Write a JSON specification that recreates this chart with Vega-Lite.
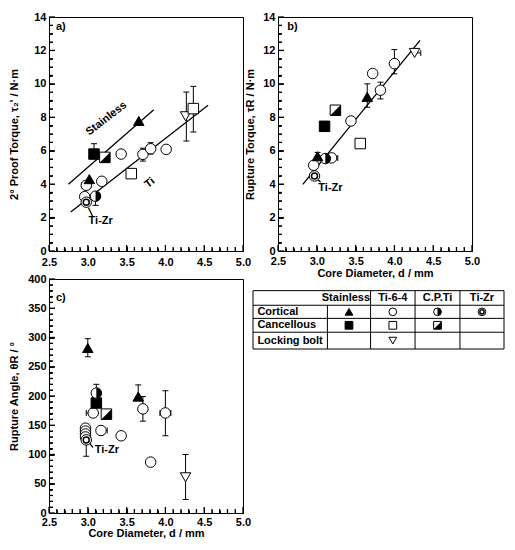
{
  "$schema": "https://vega.github.io/schema/vega-lite/v6.json",
  "padding": {"left": 8, "top": 10, "right": 5, "bottom": 5},
  "background": "white",
  "datasets": {
    "pts": [
      {"p": "a", "d": 2.98, "v": 3.93, "m": "circ_o"},
      {"p": "a", "d": 2.96, "v": 3.25, "m": "circ_o"},
      {"p": "a", "d": 3.18, "v": 4.17, "m": "circ_o"},
      {"p": "a", "d": 3.43, "v": 5.8, "m": "circ_o"},
      {"p": "a", "d": 3.71, "v": 5.78, "m": "circ_o"},
      {"p": "a", "d": 3.81, "v": 6.12, "m": "circ_o"},
      {"p": "a", "d": 4.01, "v": 6.08, "m": "circ_o"},
      {"p": "a", "d": 3.56, "v": 4.63, "m": "sq_o"},
      {"p": "a", "d": 4.26, "v": 8.06, "m": "tri_do"},
      {"p": "a", "d": 4.36, "v": 8.52, "m": "sq_o"},
      {"p": "a", "d": 3.10, "v": 3.28, "m": "halfcirc"},
      {"p": "a", "d": 2.98, "v": 2.92, "m": "dcirc"},
      {"p": "a", "d": 3.02, "v": 4.3, "m": "tri_f"},
      {"p": "a", "d": 3.657, "v": 7.78, "m": "tri_f"},
      {"p": "a", "d": 3.08, "v": 5.8, "m": "sq_f"},
      {"p": "a", "d": 3.22, "v": 5.6, "m": "halfsq"},
      {"p": "b", "d": 2.96, "v": 5.13, "m": "circ_o"},
      {"p": "b", "d": 3.19, "v": 5.57, "m": "circ_o"},
      {"p": "b", "d": 3.44, "v": 7.78, "m": "circ_o"},
      {"p": "b", "d": 3.72, "v": 10.62, "m": "circ_o"},
      {"p": "b", "d": 3.82, "v": 9.62, "m": "circ_o"},
      {"p": "b", "d": 4.00, "v": 11.21, "m": "circ_o"},
      {"p": "b", "d": 3.56, "v": 6.43, "m": "sq_o"},
      {"p": "b", "d": 4.26, "v": 11.85, "m": "tri_do"},
      {"p": "b", "d": 3.11, "v": 5.53, "m": "halfcirc"},
      {"p": "b", "d": 2.97, "v": 4.49, "m": "dcirc"},
      {"p": "b", "d": 3.01, "v": 5.67, "m": "tri_f"},
      {"p": "b", "d": 3.65, "v": 9.22, "m": "tri_f"},
      {"p": "b", "d": 3.10, "v": 7.46, "m": "sq_f"},
      {"p": "b", "d": 3.24, "v": 8.42, "m": "halfsq"},
      {"p": "c", "d": 2.97, "v": 145, "m": "circ_o"},
      {"p": "c", "d": 2.97, "v": 140, "m": "circ_o"},
      {"p": "c", "d": 2.97, "v": 135, "m": "circ_o"},
      {"p": "c", "d": 2.97, "v": 130, "m": "circ_o"},
      {"p": "c", "d": 3.07, "v": 171, "m": "circ_o"},
      {"p": "c", "d": 3.17, "v": 141, "m": "circ_o"},
      {"p": "c", "d": 3.43, "v": 132, "m": "circ_o"},
      {"p": "c", "d": 3.71, "v": 178, "m": "circ_o"},
      {"p": "c", "d": 3.81, "v": 87, "m": "circ_o"},
      {"p": "c", "d": 4.00, "v": 171, "m": "circ_o"},
      {"p": "c", "d": 4.26, "v": 61, "m": "tri_do"},
      {"p": "c", "d": 2.98, "v": 125, "m": "dcirc"},
      {"p": "c", "d": 3.11, "v": 188, "m": "sq_f"},
      {"p": "c", "d": 3.11, "v": 205, "m": "halfcirc"},
      {"p": "c", "d": 3.24, "v": 169, "m": "halfsq"},
      {"p": "c", "d": 3.00, "v": 282, "m": "tri_f"},
      {"p": "c", "d": 3.65, "v": 199, "m": "tri_f"}
    ],
    "errv": [
      {"p": "a", "d": 3.08, "v": 5.8, "v2": 6.42},
      {"p": "a", "d": 3.10, "v": 2.73, "v2": 3.28},
      {"p": "a", "d": 3.71, "v": 5.38, "v2": 6.15},
      {"p": "a", "d": 3.81, "v": 5.8, "v2": 6.48},
      {"p": "a", "d": 4.36, "v": 7.12, "v2": 9.85},
      {"p": "a", "d": 4.27, "v": 6.58, "v2": 9.51},
      {"p": "b", "d": 4.00, "v": 10.6, "v2": 12.05},
      {"p": "b", "d": 3.82, "v": 9.1, "v2": 10.1},
      {"p": "b", "d": 3.65, "v": 8.6, "v2": 10.0},
      {"p": "b", "d": 3.01, "v": 5.67, "v2": 5.9},
      {"p": "c", "d": 3.00, "v": 267, "v2": 298},
      {"p": "c", "d": 3.11, "v": 205, "v2": 220},
      {"p": "c", "d": 3.65, "v": 199, "v2": 219},
      {"p": "c", "d": 3.71, "v": 157, "v2": 199},
      {"p": "c", "d": 4.00, "v": 132, "v2": 209},
      {"p": "c", "d": 4.26, "v": 23, "v2": 100},
      {"p": "c", "d": 2.98, "v": 97, "v2": 125}
    ],
    "errh": [
      {"p": "a", "v": 3.93, "d": 2.92, "d2": 3.04},
      {"p": "b", "v": 11.85, "d": 4.26, "d2": 4.34},
      {"p": "b", "v": 5.57, "d": 3.19, "d2": 3.27},
      {"p": "c", "v": 171, "d": 2.98, "d2": 3.07},
      {"p": "c", "v": 171, "d": 3.93, "d2": 4.07},
      {"p": "c", "v": 141, "d": 3.17, "d2": 3.25}
    ],
    "lines": [
      {"p": "a", "d": 2.75, "v": 4.0, "d2": 3.85, "v2": 8.45},
      {"p": "a", "d": 2.78, "v": 2.33, "d2": 4.55, "v2": 8.72},
      {"p": "b", "d": 2.82, "v": 3.99, "d2": 4.33, "v2": 12.6},
      {"p": "a", "d": 3.066, "v": 2.03, "d2": 3.009, "v2": 2.59},
      {"p": "b", "d": 3.049, "v": 4.13, "d2": 2.994, "v2": 4.33},
      {"p": "c", "d": 3.066, "v": 112, "d2": 3.014, "v2": 121}
    ],
    "labels": [
      {"p": "a", "t": "Stainless", "d": 3.24, "v": 7.92},
      {"p": "a", "t": "Ti", "d": 3.80, "v": 4.07},
      {"p": "a", "t": "Ti-Zr", "d": 3.01, "v": 1.8},
      {"p": "a", "t": "a)", "d": 2.59, "v": 13.4},
      {"p": "b", "t": "Ti-Zr", "d": 3.02, "v": 3.78},
      {"p": "b", "t": "b)", "d": 2.62, "v": 13.4},
      {"p": "c", "t": "Ti-Zr", "d": 3.09, "v": 107},
      {"p": "c", "t": "c)", "d": 2.59, "v": 367}
    ],
    "xt": [
      {"d": 2.5, "v": 0, "mj": 1}, {"d": 2.6, "v": 0, "mj": 0}, {"d": 2.7, "v": 0, "mj": 0}, {"d": 2.8, "v": 0, "mj": 0}, {"d": 2.9, "v": 0, "mj": 0},
      {"d": 3.0, "v": 0, "mj": 1}, {"d": 3.1, "v": 0, "mj": 0}, {"d": 3.2, "v": 0, "mj": 0}, {"d": 3.3, "v": 0, "mj": 0}, {"d": 3.4, "v": 0, "mj": 0},
      {"d": 3.5, "v": 0, "mj": 1}, {"d": 3.6, "v": 0, "mj": 0}, {"d": 3.7, "v": 0, "mj": 0}, {"d": 3.8, "v": 0, "mj": 0}, {"d": 3.9, "v": 0, "mj": 0},
      {"d": 4.0, "v": 0, "mj": 1}, {"d": 4.1, "v": 0, "mj": 0}, {"d": 4.2, "v": 0, "mj": 0}, {"d": 4.3, "v": 0, "mj": 0}, {"d": 4.4, "v": 0, "mj": 0},
      {"d": 4.5, "v": 0, "mj": 1}, {"d": 4.6, "v": 0, "mj": 0}, {"d": 4.7, "v": 0, "mj": 0}, {"d": 4.8, "v": 0, "mj": 0}, {"d": 4.9, "v": 0, "mj": 0},
      {"d": 5.0, "v": 0, "mj": 1}
    ],
    "yt14": [
      {"v": 0, "d": 2.5, "mj": 1}, {"v": 0.5, "d": 2.5, "mj": 0}, {"v": 1, "d": 2.5, "mj": 0}, {"v": 1.5, "d": 2.5, "mj": 0},
      {"v": 2, "d": 2.5, "mj": 1}, {"v": 2.5, "d": 2.5, "mj": 0}, {"v": 3, "d": 2.5, "mj": 0}, {"v": 3.5, "d": 2.5, "mj": 0},
      {"v": 4, "d": 2.5, "mj": 1}, {"v": 4.5, "d": 2.5, "mj": 0}, {"v": 5, "d": 2.5, "mj": 0}, {"v": 5.5, "d": 2.5, "mj": 0},
      {"v": 6, "d": 2.5, "mj": 1}, {"v": 6.5, "d": 2.5, "mj": 0}, {"v": 7, "d": 2.5, "mj": 0}, {"v": 7.5, "d": 2.5, "mj": 0},
      {"v": 8, "d": 2.5, "mj": 1}, {"v": 8.5, "d": 2.5, "mj": 0}, {"v": 9, "d": 2.5, "mj": 0}, {"v": 9.5, "d": 2.5, "mj": 0},
      {"v": 10, "d": 2.5, "mj": 1}, {"v": 10.5, "d": 2.5, "mj": 0}, {"v": 11, "d": 2.5, "mj": 0}, {"v": 11.5, "d": 2.5, "mj": 0},
      {"v": 12, "d": 2.5, "mj": 1}, {"v": 12.5, "d": 2.5, "mj": 0}, {"v": 13, "d": 2.5, "mj": 0}, {"v": 13.5, "d": 2.5, "mj": 0},
      {"v": 14, "d": 2.5, "mj": 1}
    ],
    "yt400": [
      {"v": 0, "d": 2.5, "mj": 1}, {"v": 10, "d": 2.5, "mj": 0}, {"v": 20, "d": 2.5, "mj": 0}, {"v": 30, "d": 2.5, "mj": 0}, {"v": 40, "d": 2.5, "mj": 0},
      {"v": 50, "d": 2.5, "mj": 1}, {"v": 60, "d": 2.5, "mj": 0}, {"v": 70, "d": 2.5, "mj": 0}, {"v": 80, "d": 2.5, "mj": 0}, {"v": 90, "d": 2.5, "mj": 0},
      {"v": 100, "d": 2.5, "mj": 1}, {"v": 110, "d": 2.5, "mj": 0}, {"v": 120, "d": 2.5, "mj": 0}, {"v": 130, "d": 2.5, "mj": 0}, {"v": 140, "d": 2.5, "mj": 0},
      {"v": 150, "d": 2.5, "mj": 1}, {"v": 160, "d": 2.5, "mj": 0}, {"v": 170, "d": 2.5, "mj": 0}, {"v": 180, "d": 2.5, "mj": 0}, {"v": 190, "d": 2.5, "mj": 0},
      {"v": 200, "d": 2.5, "mj": 1}, {"v": 210, "d": 2.5, "mj": 0}, {"v": 220, "d": 2.5, "mj": 0}, {"v": 230, "d": 2.5, "mj": 0}, {"v": 240, "d": 2.5, "mj": 0},
      {"v": 250, "d": 2.5, "mj": 1}, {"v": 260, "d": 2.5, "mj": 0}, {"v": 270, "d": 2.5, "mj": 0}, {"v": 280, "d": 2.5, "mj": 0}, {"v": 290, "d": 2.5, "mj": 0},
      {"v": 300, "d": 2.5, "mj": 1}, {"v": 310, "d": 2.5, "mj": 0}, {"v": 320, "d": 2.5, "mj": 0}, {"v": 330, "d": 2.5, "mj": 0}, {"v": 340, "d": 2.5, "mj": 0},
      {"v": 350, "d": 2.5, "mj": 1}, {"v": 360, "d": 2.5, "mj": 0}, {"v": 370, "d": 2.5, "mj": 0}, {"v": 380, "d": 2.5, "mj": 0}, {"v": 390, "d": 2.5, "mj": 0},
      {"v": 400, "d": 2.5, "mj": 1}
    ],
    "tgrid": [
      {"x": 0, "x2": 5.7, "y": 0, "y2": 0},
      {"x": 0, "x2": 5.7, "y": 1, "y2": 1},
      {"x": 0, "x2": 5.7, "y": 1.9, "y2": 1.9},
      {"x": 0, "x2": 5.7, "y": 2.85, "y2": 2.85},
      {"x": 0, "x2": 5.7, "y": 4, "y2": 4},
      {"x": 0, "x2": 0, "y": 0, "y2": 4},
      {"x": 1.69, "x2": 1.69, "y": 1, "y2": 4},
      {"x": 2.67, "x2": 2.67, "y": 0, "y2": 4},
      {"x": 3.68, "x2": 3.68, "y": 0, "y2": 4},
      {"x": 4.70, "x2": 4.70, "y": 0, "y2": 4},
      {"x": 5.7, "x2": 5.7, "y": 0, "y2": 4}
    ],
    "thead": [
      {"t": "Stainless", "x": 2.11, "y": 0.5},
      {"t": "Ti-6-4", "x": 3.175, "y": 0.5},
      {"t": "C.P.Ti", "x": 4.19, "y": 0.5},
      {"t": "Ti-Zr", "x": 5.2, "y": 0.5}
    ],
    "trow": [
      {"t": "Cortical", "x": 0.1, "y": 1.45},
      {"t": "Cancellous", "x": 0.1, "y": 2.375},
      {"t": "Locking bolt", "x": 0.1, "y": 3.425}
    ],
    "tsym": [
      {"x": 2.18, "y": 1.45, "m": "tri_f"},
      {"x": 3.175, "y": 1.45, "m": "circ_o"},
      {"x": 4.19, "y": 1.45, "m": "halfcirc"},
      {"x": 5.2, "y": 1.45, "m": "dcirc"},
      {"x": 2.18, "y": 2.375, "m": "sq_f"},
      {"x": 3.175, "y": 2.375, "m": "sq_o"},
      {"x": 4.19, "y": 2.375, "m": "halfsq"},
      {"x": 3.175, "y": 3.425, "m": "tri_do"}
    ]
  },
  "vconcat": [
    {
      "hconcat": [
        {
          "width": 194,
          "height": 234,
          "encoding": {
            "x": {"field": "d", "type": "quantitative", "scale": {"domain": [2.5, 5]}, "axis": null},
            "y": {"field": "v", "type": "quantitative", "scale": {"domain": [0, 14]}, "axis": null}
          },
          "layer": [
            {
              "data": {"name": "errv"},
              "transform": [{"filter": "datum.p == 'a'"}],
              "mark": {"type": "rule", "color": "black", "strokeWidth": 1},
              "encoding": {
                "x": {"field": "d", "type": "quantitative", "scale": {"domain": [2.5, 5]},
                  "axis": {"orient": "bottom", "values": [2.5, 3, 3.5, 4, 4.5, 5], "format": ".1f", "ticks": true, "tickWidth": 1, "tickOpacity": 1, "tickColor": "black", "tickSize": 5, "offset": -5, "domain": false, "labelPadding": 5, "title": null, "zindex": 1}},
                "y": {"field": "v", "type": "quantitative", "scale": {"domain": [0, 14]},
                  "axis": {"orient": "left", "values": [0, 2, 4, 6, 8, 10, 12, 14], "ticks": true, "tickWidth": 1, "tickOpacity": 1, "tickColor": "black", "tickSize": 5, "offset": -5, "domain": false, "labelPadding": 3, "minExtent": 0, "title": "2° Proof Torque, τ₂' / N·m", "titlePadding": 14, "zindex": 1}},
                "y2": {"field": "v2"}
              }
            },
            {
              "data": {"name": "errv"},
              "transform": [{"filter": "datum.p == 'a'"}, {"fold": ["v", "v2"], "as": ["k", "cap"]}],
              "mark": {"type": "tick", "orient": "horizontal", "size": 6, "thickness": 1, "color": "black", "opacity": 1},
              "encoding": {
                "x": {"field": "d", "type": "quantitative", "scale": {"domain": [2.5, 5]},
                  "axis": {"orient": "bottom", "values": [2.5, 2.6, 2.7, 2.8, 2.9, 3.0, 3.1, 3.2, 3.3, 3.4, 3.5, 3.6, 3.7, 3.8, 3.9, 4.0, 4.1, 4.2, 4.3, 4.4, 4.5, 4.6, 4.7, 4.8, 4.9, 5.0], "ticks": true, "tickWidth": 1, "tickOpacity": 1, "tickColor": "black", "tickSize": 3, "offset": -3, "labels": false, "domain": false, "title": null, "zindex": 1}},
                "y": {"field": "cap", "type": "quantitative", "scale": {"domain": [0, 14]},
                  "axis": {"orient": "left", "values": [0, 0.5, 1, 1.5, 2, 2.5, 3, 3.5, 4, 4.5, 5, 5.5, 6, 6.5, 7, 7.5, 8, 8.5, 9, 9.5, 10, 10.5, 11, 11.5, 12, 12.5, 13, 13.5, 14], "ticks": true, "tickWidth": 1, "tickOpacity": 1, "tickColor": "black", "tickSize": 3, "offset": -3, "labels": false, "domain": false, "title": null, "minExtent": 0, "zindex": 1}}
              }
            },
            {
              "data": {"name": "errh"},
              "transform": [{"filter": "datum.p == 'a'"}],
              "mark": {"type": "rule", "color": "black", "strokeWidth": 1},
              "encoding": {"x2": {"field": "d2"}}
            },
            {
              "data": {"name": "errh"},
              "transform": [{"filter": "datum.p == 'a'"}, {"fold": ["d", "d2"], "as": ["k", "capx"]}],
              "mark": {"type": "tick", "orient": "vertical", "size": 6, "thickness": 1, "color": "black", "opacity": 1},
              "encoding": {"x": {"field": "capx", "type": "quantitative", "scale": {"domain": [2.5, 5]}, "axis": null}}
            },
            {
              "data": {"name": "lines"},
              "transform": [{"filter": "datum.p == 'a'"}],
              "mark": {"type": "rule", "color": "black", "strokeWidth": 1.3},
              "encoding": {"x2": {"field": "d2"}, "y2": {"field": "v2"}}
            },
            {
              "data": {"name": "pts"},
              "transform": [{"filter": "datum.p == 'a'"}],
              "mark": {"type": "point", "filled": true, "size": 110, "stroke": "black", "strokeWidth": 1, "opacity": 1},
              "encoding": {
                "shape": {"field": "m", "type": "nominal", "legend": null, "scale": {"domain": ["tri_f", "sq_f", "circ_o", "sq_o", "tri_do", "halfcirc", "halfsq", "dcirc"], "range": ["triangle-up", "square", "circle", "square", "triangle-down", "circle", "square", "circle"]}},
                "fill": {"field": "m", "type": "nominal", "legend": null, "scale": {"domain": ["tri_f", "sq_f", "circ_o", "sq_o", "tri_do", "halfcirc", "halfsq", "dcirc"], "range": ["black", "black", "white", "white", "white", "white", "white", "white"]}}
              }
            },
            {
              "data": {"name": "pts"},
              "transform": [{"filter": "datum.p == 'a' && datum.m == 'halfcirc'"}],
              "mark": {"type": "point", "shape": "M0,-1A1,1,0,0,1,0,1Z", "filled": true, "fill": "black", "size": 110, "strokeWidth": 0, "opacity": 1}
            },
            {
              "data": {"name": "pts"},
              "transform": [{"filter": "datum.p == 'a' && datum.m == 'halfsq'"}],
              "mark": {"type": "point", "shape": "M1,-1L1,1L-1,1Z", "filled": true, "fill": "black", "size": 110, "strokeWidth": 0, "opacity": 1}
            },
            {
              "data": {"name": "pts"},
              "transform": [{"filter": "datum.p == 'a' && datum.m == 'dcirc'"}],
              "mark": {"type": "point", "shape": "circle", "filled": false, "size": 36, "stroke": "black", "strokeWidth": 1.5, "opacity": 1}
            },
            {
              "data": {"name": "labels"},
              "transform": [{"filter": "datum.p == 'a' && (datum.t == 'Stainless' || datum.t == 'Ti')"}],
              "mark": {"type": "text", "align": "center", "baseline": "middle", "angle": -38},
              "encoding": {"text": {"field": "t"}}
            },
            {
              "data": {"name": "labels"},
              "transform": [{"filter": "datum.p == 'a' && datum.t != 'Stainless' && datum.t != 'Ti'"}],
              "mark": {"type": "text", "align": "left", "baseline": "middle"},
              "encoding": {"text": {"field": "t"}}
            },
            {
              "data": {"name": "xt"},
              "transform": [{"filter": "datum.mj == 0"}],
              "mark": {"type": "tick", "orient": "vertical", "size": 4, "thickness": 1.3, "color": "black", "opacity": 1, "yOffset": -2}
            },
            {
              "data": {"name": "xt"},
              "transform": [{"filter": "datum.mj == 1"}],
              "mark": {"type": "tick", "orient": "vertical", "size": 6, "thickness": 1.3, "color": "black", "opacity": 1, "yOffset": -3}
            },
            {
              "data": {"name": "yt14"},
              "transform": [{"filter": "datum.mj == 0"}],
              "mark": {"type": "tick", "orient": "horizontal", "size": 4, "thickness": 1.3, "color": "black", "opacity": 1, "xOffset": 2}
            },
            {
              "data": {"name": "yt14"},
              "transform": [{"filter": "datum.mj == 1"}],
              "mark": {"type": "tick", "orient": "horizontal", "size": 6, "thickness": 1.3, "color": "black", "opacity": 1, "xOffset": 3}
            }
          ],
          "resolve": {"axis": {"x": "independent", "y": "independent"}}
        },
        {
          "width": 194,
          "height": 234,
          "encoding": {
            "x": {"field": "d", "type": "quantitative", "scale": {"domain": [2.5, 5]}, "axis": null},
            "y": {"field": "v", "type": "quantitative", "scale": {"domain": [0, 14]}, "axis": null}
          },
          "layer": [
            {
              "data": {"name": "errv"},
              "transform": [{"filter": "datum.p == 'b'"}],
              "mark": {"type": "rule", "color": "black", "strokeWidth": 1},
              "encoding": {
                "x": {"field": "d", "type": "quantitative", "scale": {"domain": [2.5, 5]},
                  "axis": {"orient": "bottom", "values": [2.5, 3, 3.5, 4, 4.5, 5], "format": ".1f", "ticks": true, "tickWidth": 1, "tickOpacity": 1, "tickColor": "black", "tickSize": 5, "offset": -5, "domain": false, "labelPadding": 4, "title": "Core Diameter, d / mm", "titlePadding": 1, "zindex": 1}},
                "y": {"field": "v", "type": "quantitative", "scale": {"domain": [0, 14]},
                  "axis": {"orient": "left", "values": [0, 2, 4, 6, 8, 10, 12, 14], "ticks": true, "tickWidth": 1, "tickOpacity": 1, "tickColor": "black", "tickSize": 5, "offset": -5, "domain": false, "labelPadding": 3, "minExtent": 0, "title": "Rupture Torque, τR / N·m", "titlePadding": 7, "zindex": 1}},
                "y2": {"field": "v2"}
              }
            },
            {
              "data": {"name": "errv"},
              "transform": [{"filter": "datum.p == 'b'"}, {"fold": ["v", "v2"], "as": ["k", "cap"]}],
              "mark": {"type": "tick", "orient": "horizontal", "size": 6, "thickness": 1, "color": "black", "opacity": 1},
              "encoding": {
                "x": {"field": "d", "type": "quantitative", "scale": {"domain": [2.5, 5]},
                  "axis": {"orient": "bottom", "values": [2.5, 2.6, 2.7, 2.8, 2.9, 3.0, 3.1, 3.2, 3.3, 3.4, 3.5, 3.6, 3.7, 3.8, 3.9, 4.0, 4.1, 4.2, 4.3, 4.4, 4.5, 4.6, 4.7, 4.8, 4.9, 5.0], "ticks": true, "tickWidth": 1, "tickOpacity": 1, "tickColor": "black", "tickSize": 3, "offset": -3, "labels": false, "domain": false, "title": null, "zindex": 1}},
                "y": {"field": "cap", "type": "quantitative", "scale": {"domain": [0, 14]},
                  "axis": {"orient": "left", "values": [0, 0.5, 1, 1.5, 2, 2.5, 3, 3.5, 4, 4.5, 5, 5.5, 6, 6.5, 7, 7.5, 8, 8.5, 9, 9.5, 10, 10.5, 11, 11.5, 12, 12.5, 13, 13.5, 14], "ticks": true, "tickWidth": 1, "tickOpacity": 1, "tickColor": "black", "tickSize": 3, "offset": -3, "labels": false, "domain": false, "title": null, "minExtent": 0, "zindex": 1}}
              }
            },
            {
              "data": {"name": "errh"},
              "transform": [{"filter": "datum.p == 'b'"}],
              "mark": {"type": "rule", "color": "black", "strokeWidth": 1},
              "encoding": {"x2": {"field": "d2"}}
            },
            {
              "data": {"name": "errh"},
              "transform": [{"filter": "datum.p == 'b'"}, {"fold": ["d", "d2"], "as": ["k", "capx"]}],
              "mark": {"type": "tick", "orient": "vertical", "size": 6, "thickness": 1, "color": "black", "opacity": 1},
              "encoding": {"x": {"field": "capx", "type": "quantitative", "scale": {"domain": [2.5, 5]}, "axis": null}}
            },
            {
              "data": {"name": "lines"},
              "transform": [{"filter": "datum.p == 'b'"}],
              "mark": {"type": "rule", "color": "black", "strokeWidth": 1.3},
              "encoding": {"x2": {"field": "d2"}, "y2": {"field": "v2"}}
            },
            {
              "data": {"name": "pts"},
              "transform": [{"filter": "datum.p == 'b'"}],
              "mark": {"type": "point", "filled": true, "size": 110, "stroke": "black", "strokeWidth": 1, "opacity": 1},
              "encoding": {
                "shape": {"field": "m", "type": "nominal", "legend": null, "scale": {"domain": ["tri_f", "sq_f", "circ_o", "sq_o", "tri_do", "halfcirc", "halfsq", "dcirc"], "range": ["triangle-up", "square", "circle", "square", "triangle-down", "circle", "square", "circle"]}},
                "fill": {"field": "m", "type": "nominal", "legend": null, "scale": {"domain": ["tri_f", "sq_f", "circ_o", "sq_o", "tri_do", "halfcirc", "halfsq", "dcirc"], "range": ["black", "black", "white", "white", "white", "white", "white", "white"]}}
              }
            },
            {
              "data": {"name": "pts"},
              "transform": [{"filter": "datum.p == 'b' && datum.m == 'halfcirc'"}],
              "mark": {"type": "point", "shape": "M0,-1A1,1,0,0,1,0,1Z", "filled": true, "fill": "black", "size": 110, "strokeWidth": 0, "opacity": 1}
            },
            {
              "data": {"name": "pts"},
              "transform": [{"filter": "datum.p == 'b' && datum.m == 'halfsq'"}],
              "mark": {"type": "point", "shape": "M1,-1L1,1L-1,1Z", "filled": true, "fill": "black", "size": 110, "strokeWidth": 0, "opacity": 1}
            },
            {
              "data": {"name": "pts"},
              "transform": [{"filter": "datum.p == 'b' && datum.m == 'dcirc'"}],
              "mark": {"type": "point", "shape": "circle", "filled": false, "size": 36, "stroke": "black", "strokeWidth": 1.5, "opacity": 1}
            },
            {
              "data": {"name": "labels"},
              "transform": [{"filter": "datum.p == 'b'"}],
              "mark": {"type": "text", "align": "left", "baseline": "middle"},
              "encoding": {"text": {"field": "t"}}
            },
            {
              "data": {"name": "xt"},
              "transform": [{"filter": "datum.mj == 0"}],
              "mark": {"type": "tick", "orient": "vertical", "size": 4, "thickness": 1.3, "color": "black", "opacity": 1, "yOffset": -2}
            },
            {
              "data": {"name": "xt"},
              "transform": [{"filter": "datum.mj == 1"}],
              "mark": {"type": "tick", "orient": "vertical", "size": 6, "thickness": 1.3, "color": "black", "opacity": 1, "yOffset": -3}
            },
            {
              "data": {"name": "yt14"},
              "transform": [{"filter": "datum.mj == 0"}],
              "mark": {"type": "tick", "orient": "horizontal", "size": 4, "thickness": 1.3, "color": "black", "opacity": 1, "xOffset": 2}
            },
            {
              "data": {"name": "yt14"},
              "transform": [{"filter": "datum.mj == 1"}],
              "mark": {"type": "tick", "orient": "horizontal", "size": 6, "thickness": 1.3, "color": "black", "opacity": 1, "xOffset": 3}
            }
          ],
          "resolve": {"axis": {"x": "independent", "y": "independent"}}
        }
      ],
      "spacing": 35,
      "bounds": "flush"
    },
    {
      "hconcat": [
        {
          "width": 194,
          "height": 234,
          "encoding": {
            "x": {"field": "d", "type": "quantitative", "scale": {"domain": [2.5, 5]}, "axis": null},
            "y": {"field": "v", "type": "quantitative", "scale": {"domain": [0, 400]}, "axis": null}
          },
          "layer": [
            {
              "data": {"name": "errv"},
              "transform": [{"filter": "datum.p == 'c'"}],
              "mark": {"type": "rule", "color": "black", "strokeWidth": 1},
              "encoding": {
                "x": {"field": "d", "type": "quantitative", "scale": {"domain": [2.5, 5]},
                  "axis": {"orient": "bottom", "values": [2.5, 3, 3.5, 4, 4.5, 5], "format": ".1f", "ticks": true, "tickWidth": 1, "tickOpacity": 1, "tickColor": "black", "tickSize": 5, "offset": -5, "domain": false, "labelPadding": 3, "title": "Core Diameter, d / mm", "titlePadding": 0, "zindex": 1}},
                "y": {"field": "v", "type": "quantitative", "scale": {"domain": [0, 400]},
                  "axis": {"orient": "left", "values": [0, 50, 100, 150, 200, 250, 300, 350, 400], "ticks": true, "tickWidth": 1, "tickOpacity": 1, "tickColor": "black", "tickSize": 5, "offset": -5, "domain": false, "labelPadding": 3, "minExtent": 0, "title": "Rupture Angle, θR / °", "titlePadding": 8, "zindex": 1}},
                "y2": {"field": "v2"}
              }
            },
            {
              "data": {"name": "errv"},
              "transform": [{"filter": "datum.p == 'c'"}, {"fold": ["v", "v2"], "as": ["k", "cap"]}],
              "mark": {"type": "tick", "orient": "horizontal", "size": 6, "thickness": 1, "color": "black", "opacity": 1},
              "encoding": {
                "x": {"field": "d", "type": "quantitative", "scale": {"domain": [2.5, 5]},
                  "axis": {"orient": "bottom", "values": [2.5, 2.6, 2.7, 2.8, 2.9, 3.0, 3.1, 3.2, 3.3, 3.4, 3.5, 3.6, 3.7, 3.8, 3.9, 4.0, 4.1, 4.2, 4.3, 4.4, 4.5, 4.6, 4.7, 4.8, 4.9, 5.0], "ticks": true, "tickWidth": 1, "tickOpacity": 1, "tickColor": "black", "tickSize": 3, "offset": -3, "labels": false, "domain": false, "title": null, "zindex": 1}},
                "y": {"field": "cap", "type": "quantitative", "scale": {"domain": [0, 400]},
                  "axis": {"orient": "left", "values": [0, 10, 20, 30, 40, 50, 60, 70, 80, 90, 100, 110, 120, 130, 140, 150, 160, 170, 180, 190, 200, 210, 220, 230, 240, 250, 260, 270, 280, 290, 300, 310, 320, 330, 340, 350, 360, 370, 380, 390, 400], "ticks": true, "tickWidth": 1, "tickOpacity": 1, "tickColor": "black", "tickSize": 3, "offset": -3, "labels": false, "domain": false, "title": null, "minExtent": 0, "zindex": 1}}
              }
            },
            {
              "data": {"name": "errh"},
              "transform": [{"filter": "datum.p == 'c'"}],
              "mark": {"type": "rule", "color": "black", "strokeWidth": 1},
              "encoding": {"x2": {"field": "d2"}}
            },
            {
              "data": {"name": "errh"},
              "transform": [{"filter": "datum.p == 'c'"}, {"fold": ["d", "d2"], "as": ["k", "capx"]}],
              "mark": {"type": "tick", "orient": "vertical", "size": 6, "thickness": 1, "color": "black", "opacity": 1},
              "encoding": {"x": {"field": "capx", "type": "quantitative", "scale": {"domain": [2.5, 5]}, "axis": null}}
            },
            {
              "data": {"name": "lines"},
              "transform": [{"filter": "datum.p == 'c'"}],
              "mark": {"type": "rule", "color": "black", "strokeWidth": 1.3},
              "encoding": {"x2": {"field": "d2"}, "y2": {"field": "v2"}}
            },
            {
              "data": {"name": "pts"},
              "transform": [{"filter": "datum.p == 'c'"}],
              "mark": {"type": "point", "filled": true, "size": 110, "stroke": "black", "strokeWidth": 1, "opacity": 1},
              "encoding": {
                "shape": {"field": "m", "type": "nominal", "legend": null, "scale": {"domain": ["tri_f", "sq_f", "circ_o", "sq_o", "tri_do", "halfcirc", "halfsq", "dcirc"], "range": ["triangle-up", "square", "circle", "square", "triangle-down", "circle", "square", "circle"]}},
                "fill": {"field": "m", "type": "nominal", "legend": null, "scale": {"domain": ["tri_f", "sq_f", "circ_o", "sq_o", "tri_do", "halfcirc", "halfsq", "dcirc"], "range": ["black", "black", "white", "white", "white", "white", "white", "white"]}}
              }
            },
            {
              "data": {"name": "pts"},
              "transform": [{"filter": "datum.p == 'c' && datum.m == 'halfcirc'"}],
              "mark": {"type": "point", "shape": "M0,-1A1,1,0,0,1,0,1Z", "filled": true, "fill": "black", "size": 110, "strokeWidth": 0, "opacity": 1}
            },
            {
              "data": {"name": "pts"},
              "transform": [{"filter": "datum.p == 'c' && datum.m == 'halfsq'"}],
              "mark": {"type": "point", "shape": "M1,-1L1,1L-1,1Z", "filled": true, "fill": "black", "size": 110, "strokeWidth": 0, "opacity": 1}
            },
            {
              "data": {"name": "pts"},
              "transform": [{"filter": "datum.p == 'c' && datum.m == 'dcirc'"}],
              "mark": {"type": "point", "shape": "circle", "filled": false, "size": 36, "stroke": "black", "strokeWidth": 1.5, "opacity": 1}
            },
            {
              "data": {"name": "labels"},
              "transform": [{"filter": "datum.p == 'c'"}],
              "mark": {"type": "text", "align": "left", "baseline": "middle"},
              "encoding": {"text": {"field": "t"}}
            },
            {
              "data": {"name": "xt"},
              "transform": [{"filter": "datum.mj == 0"}],
              "mark": {"type": "tick", "orient": "vertical", "size": 4, "thickness": 1.3, "color": "black", "opacity": 1, "yOffset": -2}
            },
            {
              "data": {"name": "xt"},
              "transform": [{"filter": "datum.mj == 1"}],
              "mark": {"type": "tick", "orient": "vertical", "size": 6, "thickness": 1.3, "color": "black", "opacity": 1, "yOffset": -3}
            },
            {
              "data": {"name": "yt400"},
              "transform": [{"filter": "datum.mj == 0"}],
              "mark": {"type": "tick", "orient": "horizontal", "size": 4, "thickness": 1.3, "color": "black", "opacity": 1, "xOffset": 2}
            },
            {
              "data": {"name": "yt400"},
              "transform": [{"filter": "datum.mj == 1"}],
              "mark": {"type": "tick", "orient": "horizontal", "size": 6, "thickness": 1.3, "color": "black", "opacity": 1, "xOffset": 3}
            }
          ],
          "resolve": {"axis": {"x": "independent", "y": "independent"}}
        },
        {
          "width": 251,
          "height": 70,
          "view": {"stroke": null},
          "encoding": {
            "x": {"field": "x", "type": "quantitative", "scale": {"domain": [0, 5.7], "nice": false, "zero": false}, "axis": null},
            "y": {"field": "y", "type": "quantitative", "scale": {"domain": [-0.8, 4], "nice": false, "zero": false, "reverse": true}, "axis": null}
          },
          "layer": [
            {
              "data": {"name": "tgrid"},
              "mark": {"type": "rule", "color": "black", "strokeWidth": 1},
              "encoding": {"x2": {"field": "x2"}, "y2": {"field": "y2"}}
            },
            {
              "data": {"name": "thead"},
              "mark": {"type": "text", "align": "center", "baseline": "middle"},
              "encoding": {"text": {"field": "t"}}
            },
            {
              "data": {"name": "trow"},
              "mark": {"type": "text", "align": "left", "baseline": "middle"},
              "encoding": {"text": {"field": "t"}}
            },
            {
              "data": {"name": "tsym"},
              "mark": {"type": "point", "filled": true, "size": 60, "stroke": "black", "strokeWidth": 1, "opacity": 1},
              "encoding": {
                "shape": {"field": "m", "type": "nominal", "legend": null, "scale": {"domain": ["tri_f", "sq_f", "circ_o", "sq_o", "tri_do", "halfcirc", "halfsq", "dcirc"], "range": ["triangle-up", "square", "circle", "square", "triangle-down", "circle", "square", "circle"]}},
                "fill": {"field": "m", "type": "nominal", "legend": null, "scale": {"domain": ["tri_f", "sq_f", "circ_o", "sq_o", "tri_do", "halfcirc", "halfsq", "dcirc"], "range": ["black", "black", "white", "white", "white", "white", "white", "white"]}}
              }
            },
            {
              "data": {"name": "tsym"},
              "transform": [{"filter": "datum.m == 'halfcirc'"}],
              "mark": {"type": "point", "shape": "M0,-1A1,1,0,0,1,0,1Z", "filled": true, "fill": "black", "size": 60, "strokeWidth": 0, "opacity": 1}
            },
            {
              "data": {"name": "tsym"},
              "transform": [{"filter": "datum.m == 'halfsq'"}],
              "mark": {"type": "point", "shape": "M1,-1L1,1L-1,1Z", "filled": true, "fill": "black", "size": 60, "strokeWidth": 0, "opacity": 1}
            },
            {
              "data": {"name": "tsym"},
              "transform": [{"filter": "datum.m == 'dcirc'"}],
              "mark": {"type": "point", "shape": "circle", "filled": false, "size": 18, "stroke": "black", "strokeWidth": 1.5, "opacity": 1}
            }
          ]
        }
      ],
      "spacing": 10,
      "bounds": "flush"
    }
  ],
  "spacing": -12,
  "config": {
    "font": "Liberation Sans",
    "view": {"stroke": "black", "strokeWidth": 1},
    "axis": {
      "grid": false,
      "ticks": true,
      "labelFont": "Liberation Sans",
      "labelFontSize": 11,
      "labelFontWeight": "bold",
      "labelColor": "black",
      "labelFlush": false,
      "labelOverlap": false,
      "labelBound": false,
      "titleFont": "Liberation Sans",
      "titleFontSize": 11,
      "titleFontWeight": "bold",
      "titleColor": "black",
      "domainColor": "black",
      "tickColor": "black",
      "minExtent": 0
    },
    "text": {"font": "Liberation Sans", "fontSize": 11, "fontWeight": "bold", "color": "black"}
  }
}
